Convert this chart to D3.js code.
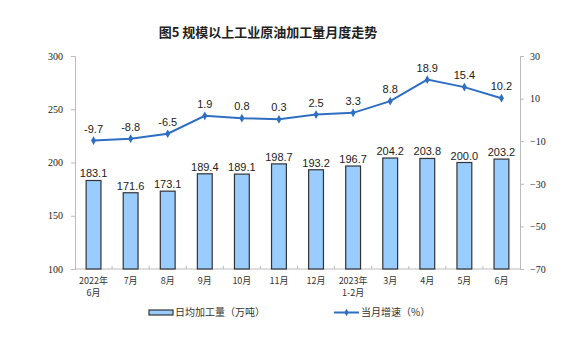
<!DOCTYPE html>
<html>
<head>
<meta charset="utf-8">
<script src="https://cdn.jsdelivr.net/npm/d3@7"></script>
<style>
  body { margin: 0; background: #fff; }
  svg { display: block; }
</style>
</head>
<body>
<div id="chart"></div>
<script>
const months = ["2022年\n6月", "7月", "8月", "9月", "10月", "11月", "12月", "2023年\n1-2月", "3月", "4月", "5月", "6月"];
const output = [183.1, 171.6, 173.1, 189.4, 189.1, 198.7, 193.2, 196.7, 204.2, 203.8, 200.0, 203.2];
const growth = [-9.7, -8.8, -6.5, 1.9, 0.8, 0.3, 2.5, 3.3, 8.8, 18.9, 15.4, 10.2];
const leftTicks = [100, 150, 200, 250, 300];
const rightTicks = [-70, -50, -30, -10, 10, 30];

const W = 566, H = 354;
const plot = { left: 75, right: 520, top: 56, bottom: 269 };

const svg = d3.select("#chart").append("svg")
    .attr("width", W)
    .attr("height", H);

svg.append("text")
    .attr("x", 268)
    .attr("y", 37)
    .attr("text-anchor", "middle")
    .style("font-family", "'Noto Sans CJK SC', sans-serif")
    .style("font-size", "13px")
    .style("font-weight", "bold")
    .style("fill", "#222")
    .text("图5  规模以上工业原油加工量月度走势");

const x = d3.scaleBand().domain(months).range([plot.left, plot.right]).paddingInner(0.6).paddingOuter(0.3);
const band = d3.scaleBand().domain(months).range([plot.left, plot.right]);
const yL = d3.scaleLinear().domain([100, 300]).range([plot.bottom, plot.top]);
const yR = d3.scaleLinear().domain([-70, 30]).range([plot.bottom, plot.top]);

// 左轴
const axL = svg.append("g")
    .attr("transform", `translate(${plot.left},0)`)
    .call(d3.axisLeft(yL).tickValues(leftTicks).tickSize(4).tickPadding(8));
// 右轴
const axR = svg.append("g")
    .attr("transform", `translate(${plot.right},0)`)
    .call(d3.axisRight(yR).tickValues(rightTicks).tickSize(4).tickPadding(6));

[axL, axR].forEach(g => {
    g.select(".domain").attr("stroke", "#bbb");
    g.selectAll(".tick line").attr("stroke", "#bbb");
    g.selectAll(".tick text")
        .style("font-family", "'Liberation Serif', serif")
        .style("font-size", "10px")
        .style("fill", "#222");
});

// 底轴
svg.append("line")
    .attr("x1", plot.left).attr("x2", plot.right)
    .attr("y1", plot.bottom).attr("y2", plot.bottom)
    .attr("stroke", "#bbb");

svg.selectAll(".xtick")
    .data(months.slice(1))
    .enter().append("line")
    .attr("x1", d => band(d)).attr("x2", d => band(d))
    .attr("y1", plot.bottom).attr("y2", plot.bottom - 3)
    .attr("stroke", "#bbb");

// 柱
svg.selectAll(".bar")
    .data(output)
    .enter().append("rect")
    .attr("x", (d, i) => x(months[i]))
    .attr("y", d => yL(d))
    .attr("width", x.bandwidth())
    .attr("height", d => plot.bottom - yL(d))
    .attr("fill", "#99ccff")
    .attr("stroke", "#333")
    .attr("stroke-width", 1.2);

svg.selectAll(".bar-label")
    .data(output)
    .enter().append("text")
    .attr("x", (d, i) => x(months[i]) + x.bandwidth() / 2)
    .attr("y", d => yL(d) - 3)
    .attr("text-anchor", "middle")
    .style("font-family", "'Liberation Sans', Arial, sans-serif")
    .style("font-size", "11px")
    .style("fill", "#222")
    .text(d => d.toFixed(1));

// 折线
const cx = i => x(months[i]) + x.bandwidth() / 2;
const line = d3.line().x((d, i) => cx(i)).y(d => yR(d));

svg.append("path")
    .datum(growth)
    .attr("d", line)
    .attr("fill", "none")
    .attr("stroke", "#2f6fc1")
    .attr("stroke-width", 2);

svg.selectAll(".pt")
    .data(growth)
    .enter().append("path")
    .attr("d", d3.symbol(d3.symbolDiamond, 22))
    .attr("transform", (d, i) => `translate(${cx(i)},${yR(d)})`)
    .attr("fill", "#2f6fc1");

svg.selectAll(".pt-label")
    .data(growth)
    .enter().append("text")
    .attr("x", (d, i) => cx(i))
    .attr("y", d => yR(d) - 8)
    .attr("text-anchor", "middle")
    .style("font-family", "'Liberation Sans', Arial, sans-serif")
    .style("font-size", "11px")
    .style("fill", "#222")
    .text(d => d.toFixed(1));

// 类别标签
const xl = svg.selectAll(".xlab")
    .data(months)
    .enter().append("text")
    .attr("text-anchor", "middle")
    .style("font-family", "'Noto Sans CJK SC', sans-serif")
    .style("font-size", "9px")
    .style("fill", "#333");
xl.each(function (d) {
    const parts = d.split("\n");
    const t = d3.select(this);
    parts.forEach((p, k) => {
        t.append("tspan")
            .attr("x", band(d) + band.bandwidth() / 2)
            .attr("y", 284 + k * 12)
            .text(p);
    });
});

// 图例
const lg = svg.append("g")
    .style("font-family", "'Noto Sans CJK SC', sans-serif")
    .style("font-size", "10px")
    .style("fill", "#333");
lg.append("rect")
    .attr("x", 149).attr("y", 310).attr("width", 24).attr("height", 5)
    .attr("fill", "#99ccff").attr("stroke", "#333").attr("stroke-width", 1.2);
lg.append("text").attr("x", 175).attr("y", 316).text("日均加工量（万吨）");
lg.append("line")
    .attr("x1", 334).attr("x2", 359).attr("y1", 312.5).attr("y2", 312.5)
    .attr("stroke", "#2f6fc1").attr("stroke-width", 2);
lg.append("path")
    .attr("d", d3.symbol(d3.symbolDiamond, 16))
    .attr("transform", "translate(346.5,312.5)")
    .attr("fill", "#2f6fc1");
lg.append("text").attr("x", 361).attr("y", 316).text("当月增速（%）");
</script>
</body>
</html>
